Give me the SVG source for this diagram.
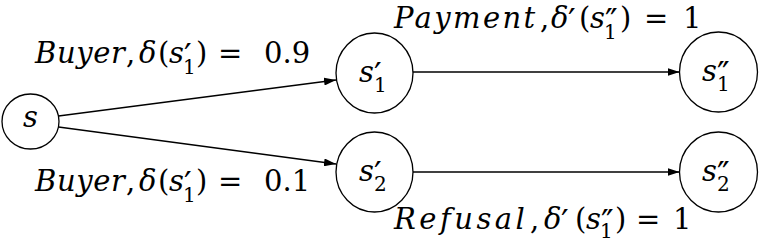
<svg xmlns="http://www.w3.org/2000/svg" width="762" height="242" viewBox="0 0 762 242">
<style>
.n{fill:#fff;stroke:#000;stroke-width:1.3}
.c line{stroke:#000;stroke-width:1.3}
.m{font-family:'DejaVu Serif',serif;font-size:29px;fill:#000}
.i{font-style:italic}
.sb{font-size:20px;font-style:normal}
.p{font-size:34px}
</style>
<defs>
<marker id="arr" viewBox="0 0 12 8" refX="12" refY="4" markerWidth="12" markerHeight="8" orient="auto" markerUnits="userSpaceOnUse"><path d="M0,0 L12,4 L0,8 z" fill="#000"/></marker>
</defs>
<g class="c" id="connectors">
<line x1="58.5" y1="116" x2="336" y2="80" marker-end="url(#arr)"/>
<line x1="58.5" y1="127" x2="336" y2="164" marker-end="url(#arr)"/>
<line x1="413" y1="72" x2="679.5" y2="72" marker-end="url(#arr)"/>
<line x1="413" y1="172" x2="679.5" y2="172" marker-end="url(#arr)"/>
</g>
<g id="node-s">
<ellipse class="n" cx="30.5" cy="121.5" rx="28.5" ry="27.5"/>
<text class="m i" x="30.5" y="127" text-anchor="middle">s</text>
</g>
<g id="node-s1p">
<ellipse class="n" cx="374.5" cy="73" rx="38.5" ry="40"/>
<text class="m"><tspan class="i" x="359" y="82">s</tspan><tspan class="p" x="374" y="87">′</tspan><tspan class="sb" x="374" y="92">1</tspan></text>
</g>
<g id="node-s2p">
<ellipse class="n" cx="374.5" cy="172" rx="38.5" ry="40"/>
<text class="m"><tspan class="i" x="359" y="181">s</tspan><tspan class="p" x="374" y="186">′</tspan><tspan class="sb" x="374" y="191">2</tspan></text>
</g>
<g id="node-s1pp">
<ellipse class="n" cx="718.5" cy="72" rx="39" ry="40"/>
<text class="m"><tspan class="i" x="702" y="81">s</tspan><tspan class="p" x="717" y="86">″</tspan><tspan class="sb" x="717" y="91">1</tspan></text>
</g>
<g id="node-s2pp">
<ellipse class="n" cx="718.5" cy="172" rx="39" ry="40"/>
<text class="m"><tspan class="i" x="702" y="181">s</tspan><tspan class="p" x="717" y="186">″</tspan><tspan class="sb" x="717" y="191">2</tspan></text>
</g>
<g id="labels">
<text class="m"><tspan class="i" x="35" y="63" style="letter-spacing:0.6px">Buyer</tspan><tspan x="126" y="63">,</tspan><tspan class="i" x="139" y="63">δ</tspan><tspan x="158" y="63">(</tspan><tspan class="i" x="169" y="63">s</tspan><tspan class="p" x="184" y="68">′</tspan><tspan class="sb" x="183" y="74">1</tspan><tspan x="196" y="63">)</tspan><tspan x="218" y="63">=</tspan><tspan x="264" y="63">0.9</tspan></text>
<text class="m"><tspan class="i" x="35" y="191" style="letter-spacing:0.6px">Buyer</tspan><tspan x="126" y="191">,</tspan><tspan class="i" x="139" y="191">δ</tspan><tspan x="158" y="191">(</tspan><tspan class="i" x="169" y="191">s</tspan><tspan class="p" x="184" y="196">′</tspan><tspan class="sb" x="183" y="202">1</tspan><tspan x="196" y="191">)</tspan><tspan x="218" y="191">=</tspan><tspan x="264" y="191">0.1</tspan></text>
<text class="m"><tspan class="i" x="394" y="28" style="letter-spacing:2.4px">Payment</tspan><tspan x="540" y="28">,</tspan><tspan class="i" x="551" y="28">δ</tspan><tspan class="p" x="568" y="33">′</tspan><tspan x="579" y="28">(</tspan><tspan class="i" x="590" y="28">s</tspan><tspan class="p" x="605" y="33">″</tspan><tspan class="sb" x="604" y="39">1</tspan><tspan x="620" y="28">)</tspan><tspan x="644" y="28">=</tspan><tspan x="683" y="28">1</tspan></text>
<text class="m"><tspan class="i" x="394" y="229" style="letter-spacing:3.5px">Refusal</tspan><tspan x="530" y="229">,</tspan><tspan class="i" x="544" y="229">δ</tspan><tspan class="p" x="561" y="234">′</tspan><tspan x="575" y="229">(</tspan><tspan class="i" x="586" y="229">s</tspan><tspan class="p" x="601" y="234">″</tspan><tspan class="sb" x="600" y="238">1</tspan><tspan x="615" y="229">)</tspan><tspan x="636" y="229">=</tspan><tspan x="673" y="229">1</tspan></text>
</g>
</svg>
